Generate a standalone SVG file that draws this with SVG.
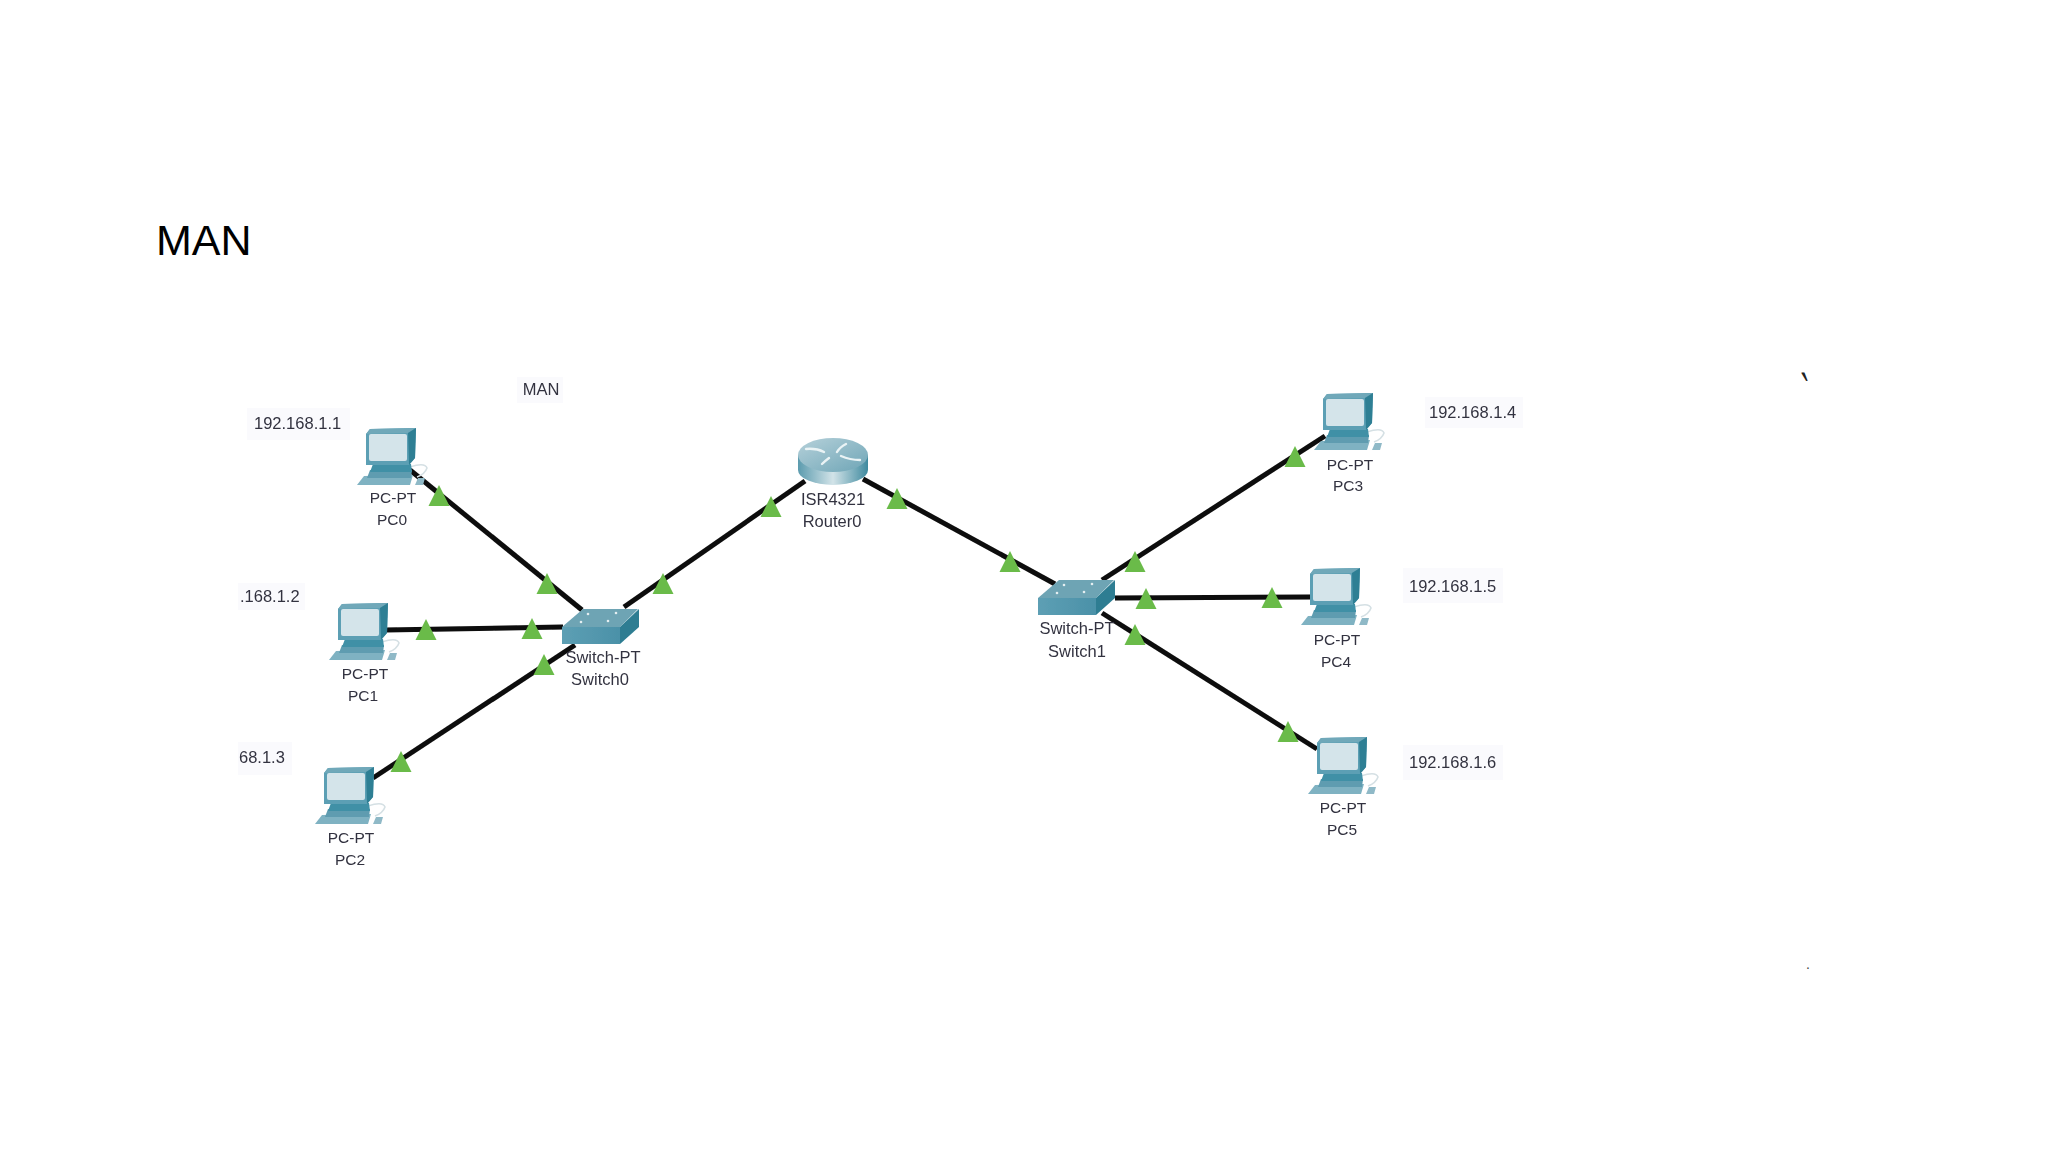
<svg xmlns="http://www.w3.org/2000/svg" width="2048" height="1152" viewBox="0 0 2048 1152">
<style>
text{font-family:"Liberation Sans",Arial,sans-serif;fill:#333340}
.lbl{font-size:15.5px;text-anchor:middle}
.dev{font-size:16.5px;text-anchor:middle}
.ip{font-size:16.5px}
.bg{fill:#fafafd}
.link{stroke:#0a0a0a;stroke-width:5;fill:none}
.light{fill:#6abb4a}
</style>
<defs>
<filter id="soft" x="-2%" y="-2%" width="104%" height="104%"><feGaussianBlur stdDeviation="0.55"/></filter>
<linearGradient id="rt" x1="0" x2="1" y1="0" y2="0"><stop offset="0" stop-color="#5b9bae"/><stop offset=".5" stop-color="#d2e3e8"/><stop offset="1" stop-color="#3f8a9f"/></linearGradient>
<linearGradient id="rtop" x1="0" x2="1" y1="0" y2="1"><stop offset="0" stop-color="#b6d1da"/><stop offset="1" stop-color="#6ea5b6"/></linearGradient>
<linearGradient id="sf" x1="0" x2="1" y1="0" y2="0"><stop offset="0" stop-color="#5d9fb4"/><stop offset="1" stop-color="#4b91a8"/></linearGradient>
<polygon id="tri" class="light" points="0,0 10.5,21 -10.5,21"/>
<g id="pc">
<path d="M45,39 Q60,34 62,40 Q60,46 52,49" fill="none" stroke="#d5e0e4" stroke-width="1.6"/>
<polygon points="-1,48 48,47 45,57 -8,57" fill="#7fb2c2"/>
<polygon points="5,42 47,42 46,50 2,50" fill="#5e9cb0"/>
<polygon points="8,36 46,36 47,44 5,44" fill="#3f90a6"/>
<polygon points="1,6 5,1 51,0 50,30 44,37 1,37" fill="#5c9fb4"/>
<polygon points="1,6 5,1 51,0 43,5" fill="#6fa8b9"/>
<polygon points="43,5 51,0 50,30 44,37" fill="#2f7f94"/>
<rect x="4" y="6" width="38" height="27" rx="2" fill="#d4e4ea"/>
<polygon points="53,50 60,50 58,57 50,57" fill="#8fb9c7"/>
</g>
<g id="sw">
<polygon points="0,0 58,0 76,-18 21,-18" fill="#6ea4b4"/>
<rect x="0" y="0" width="58" height="17" fill="url(#sf)"/>
<polygon points="58,0 77,-18 77,0 58,17" fill="#2d7d92"/>
<g fill="#e4eef1"><circle cx="26" cy="-13" r="1.3"/><circle cx="54" cy="-14" r="1.3"/><circle cx="19" cy="-5" r="1.3"/><circle cx="46" cy="-6" r="1.3"/></g>
</g>
</defs>
<rect width="2048" height="1152" fill="#ffffff"/>
<text x="156" y="255" font-size="43" style="fill:#000">MAN</text>
<text id="speck1" transform="translate(1800,415) scale(.9,1.8)" font-size="32" style="fill:#222">`</text>
<text id="speck2" x="1806" y="969" font-size="14" style="fill:#444">.</text>
<g filter="url(#soft)">
<g id="notes">
<rect class="bg" x="517" y="377" width="46" height="26"/><text x="541" y="395" class="ip" text-anchor="middle">MAN</text>
<rect class="bg" x="247" y="408" width="103" height="32"/><text x="254" y="429" class="ip">192.168.1.1</text>
<rect class="bg" x="238" y="583" width="67" height="27"/><text x="240" y="602" class="ip">.168.1.2</text>
<rect class="bg" x="238" y="742" width="54" height="33"/><text x="239" y="763" class="ip">68.1.3</text>
<rect class="bg" x="1425" y="397" width="98" height="31"/><text x="1429" y="418" class="ip">192.168.1.4</text>
<rect class="bg" x="1403" y="568" width="100" height="35"/><text x="1409" y="592" class="ip">192.168.1.5</text>
<rect class="bg" x="1403" y="745" width="100" height="35"/><text x="1409" y="768" class="ip">192.168.1.6</text>
</g>
<g id="connectors">
<line class="link" x1="410" y1="470" x2="582" y2="610"/>
<line class="link" x1="385" y1="630" x2="563" y2="627"/>
<line class="link" x1="373" y1="778" x2="575" y2="645"/>
<line class="link" x1="624" y1="607" x2="805" y2="481"/>
<line class="link" x1="863" y1="479" x2="1055" y2="584"/>
<line class="link" x1="1102" y1="580" x2="1325" y2="436"/>
<line class="link" x1="1115" y1="598" x2="1310" y2="597"/>
<line class="link" x1="1102" y1="613" x2="1317" y2="749"/>
<use href="#tri" x="439" y="485"/><use href="#tri" x="547" y="573"/>
<use href="#tri" x="426" y="619"/><use href="#tri" x="532" y="618"/>
<use href="#tri" x="544" y="654"/><use href="#tri" x="401" y="751"/>
<use href="#tri" x="663" y="573"/><use href="#tri" x="771" y="496"/>
<use href="#tri" x="897" y="488"/><use href="#tri" x="1010" y="551"/>
<use href="#tri" x="1135" y="551"/><use href="#tri" x="1295" y="446"/>
<use href="#tri" x="1146" y="588"/><use href="#tri" x="1272" y="587"/>
<use href="#tri" x="1135" y="624"/><use href="#tri" x="1288" y="721"/>
</g>
<g id="PC0"><use href="#pc" x="365" y="428"/><text class="lbl" x="393" y="503">PC-PT</text><text class="lbl" x="392" y="525">PC0</text></g>
<g id="PC1"><use href="#pc" x="337" y="603"/><text class="lbl" x="365" y="679">PC-PT</text><text class="lbl" x="363" y="701">PC1</text></g>
<g id="PC2"><use href="#pc" x="323" y="767"/><text class="lbl" x="351" y="843">PC-PT</text><text class="lbl" x="350" y="865">PC2</text></g>
<g id="PC3"><use href="#pc" x="1322" y="393"/><text class="lbl" x="1350" y="470">PC-PT</text><text class="lbl" x="1348" y="491">PC3</text></g>
<g id="PC4"><use href="#pc" x="1309" y="568"/><text class="lbl" x="1337" y="645">PC-PT</text><text class="lbl" x="1336" y="667">PC4</text></g>
<g id="PC5"><use href="#pc" x="1316" y="737"/><text class="lbl" x="1343" y="813">PC-PT</text><text class="lbl" x="1342" y="835">PC5</text></g>
<g id="Switch0"><use href="#sw" x="562" y="627"/><text class="dev" x="603" y="663">Switch-PT</text><text class="dev" x="600" y="685">Switch0</text></g>
<g id="Switch1"><use href="#sw" x="1038" y="598"/><text class="dev" x="1077" y="634">Switch-PT</text><text class="dev" x="1077" y="657">Switch1</text></g>
<g id="Router0">
<path d="M798,455 V470 A35,15 0 0 0 868,470 V455 Z" fill="url(#rt)"/>
<ellipse cx="833" cy="455" rx="35" ry="17" fill="url(#rtop)"/>
<g fill="none" stroke="#eaf3f5" stroke-width="2.4" stroke-linecap="round"><path d="M806,449 Q816,448 824,452"/><path d="M846,444 Q840,447 837,452"/><path d="M841,456 Q850,460 860,460"/><path d="M829,458 Q825,461 822,464"/></g>
<text class="dev" x="833" y="505">ISR4321</text><text class="dev" x="832" y="527">Router0</text>
</g>
</g>
</svg>
